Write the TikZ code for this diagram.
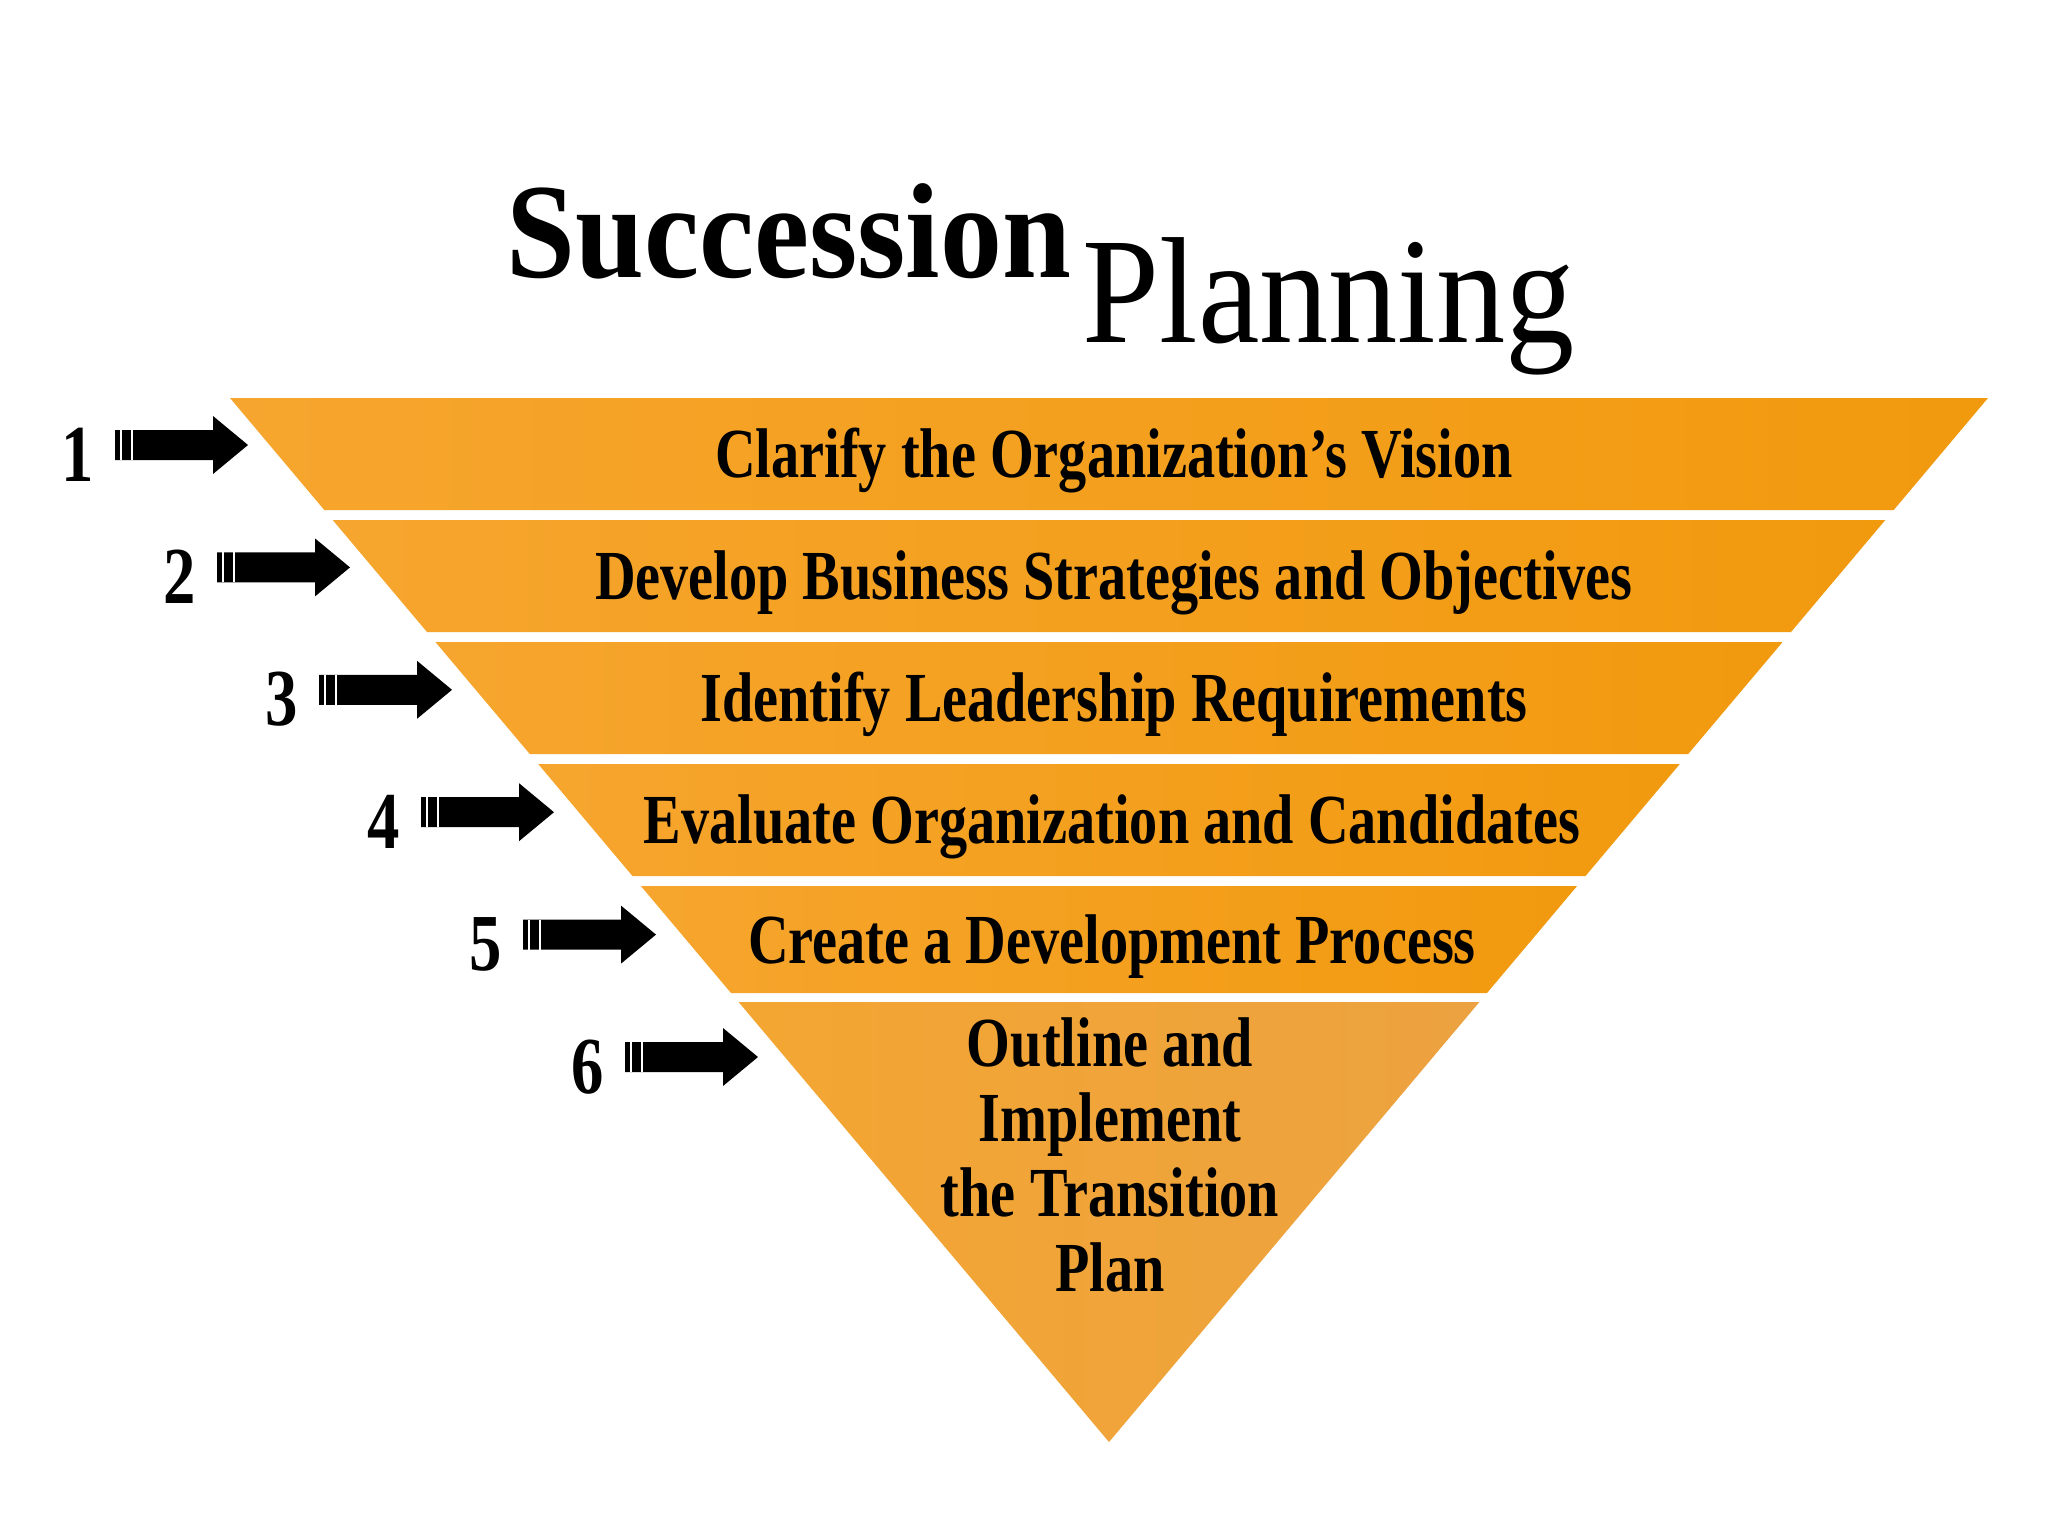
\documentclass[tikz,border=0pt]{standalone}
\usepackage{fontspec}
\setmainfont{Liberation Serif}
\newfontfamily\bandfont[FakeStretch=0.8]{Liberation Serif}
\newfontfamily\titlefont[FakeStretch=0.915]{Liberation Serif}
\definecolor{orL}{HTML}{F6A52E}
\definecolor{orR}{HTML}{F29A0E}
\definecolor{orLsix}{HTML}{F4A632}
\definecolor{orRsix}{HTML}{ECA240}
\begin{document}
\begin{tikzpicture}[x=0.01cm,y=-0.01cm,
  bandtext/.style={font=\bandfont\bfseries\fontsize{20}{21.3}\selectfont, inner sep=0pt, align=center},
  numtext/.style={font=\bandfont\bfseries\fontsize{23}{25}\selectfont, inner sep=0pt, anchor=base},
  bandshade/.style={left color=orL, right color=orR},
  blockarrow/.style={fill=black},
  stripe/.style={draw=white, line width=0.75pt}]
\useasboundingbox (0,0) rectangle (2048,1536);
\fill[white] (0,0) rectangle (2048,1536);
% title
\node[font=\titlefont\bfseries\fontsize{38.5}{40}\selectfont, anchor=base west, inner sep=0pt] (t1) at (506,277) {Succession};
\node[font=\titlefont\fontsize{43}{45}\selectfont, anchor=base west, inner sep=0pt] (t2) at (1082,342) {Planning};
% bands
\shade[bandshade] (230,398) -- (1988,398) -- (1893.7,510) -- (324.3,510) -- cycle;
\shade[bandshade] (332.7,520) -- (1885.3,520) -- (1791.0,632) -- (427.0,632) -- cycle;
\shade[bandshade] (435.4,642) -- (1782.6,642) -- (1688.2,754) -- (529.8,754) -- cycle;
\shade[bandshade] (538.2,764) -- (1679.8,764) -- (1585.5,876) -- (632.5,876) -- cycle;
\shade[bandshade] (640.9,886) -- (1577.1,886) -- (1487.0,993) -- (731.0,993) -- cycle;
\shade[left color=orLsix, right color=orRsix] (738.6,1002) -- (1479.4,1002) -- (1109,1442) -- cycle;
% band texts
\node[bandtext, anchor=base] (b1) at (1114,477) {Clarify the Organization’s Vision};
\node[bandtext, anchor=base] (b2) at (1114,599) {Develop Business Strategies and Objectives};
\node[bandtext, anchor=base] (b3) at (1114,721) {Identify Leadership Requirements};
\node[bandtext, anchor=base] (b4) at (1112,843) {Evaluate Organization and Candidates};
\node[bandtext, anchor=base] (b5) at (1112,963) {Create a Development Process};
\node[bandtext, anchor=center] (b6) at (1110,1155) {Outline and\\Implement\\the Transition\\Plan};
% arrows and numbers
\foreach \i in {1,...,6}{
  \pgfmathsetmacro{\tx}{248+102*(\i-1)}
  \pgfmathsetmacro{\ty}{445+122.4*(\i-1)}
  \fill[blockarrow] (\tx-133,\ty-15) -- (\tx-35,\ty-15) -- (\tx-35,\ty-29) -- (\tx,\ty)
     -- (\tx-35,\ty+29) -- (\tx-35,\ty+15) -- (\tx-133,\ty+15) -- cycle;
  \draw[stripe] (\tx-127,\ty-15) -- (\tx-127,\ty+15);
  \draw[stripe] (\tx-116,\ty-15) -- (\tx-116,\ty+15);
  \node[numtext] (n\i) at (\tx-170,\ty+36) {\i};
}
\end{tikzpicture}
\end{document}
